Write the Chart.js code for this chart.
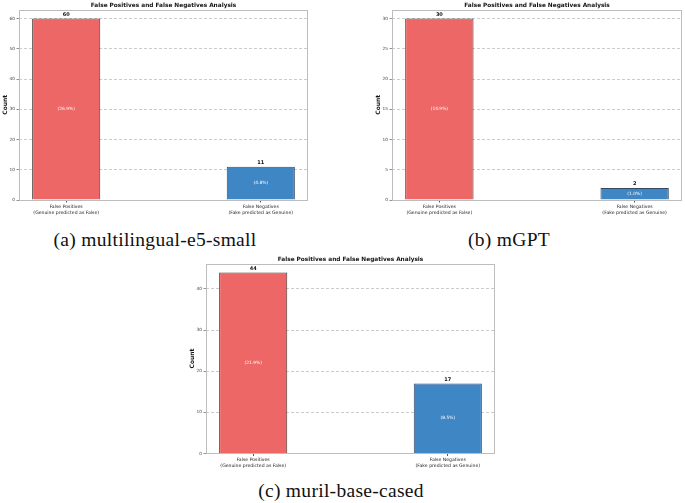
<!DOCTYPE html>
<html><head><meta charset="utf-8">
<script src="https://cdn.jsdelivr.net/npm/chart.js@4"></script>
<style>
html,body{margin:0;padding:0;background:#fff}
body{width:685px;height:503px;position:relative;overflow:hidden}
canvas{position:absolute}
.cap{position:absolute;width:320px;text-align:center;white-space:nowrap;font-family:"Liberation Serif","DejaVu Serif",serif;font-size:19.5px;letter-spacing:0.3px;line-height:22px;color:#111}
</style></head><body>
<canvas id="ca" width="320" height="225" style="left:0px;top:0px"></canvas>
<canvas id="cb" width="312" height="225" style="left:373px;top:0px"></canvas>
<canvas id="cc" width="320" height="225" style="left:187px;top:254px"></canvas>
<div class="cap" id="capA" style="left:-5px;top:229px"></div>
<div class="cap" id="capB" style="left:349px;top:229px"></div>
<div class="cap" id="capC" style="left:181px;top:480px"></div>
<script>
// ---- data ----
const categories = [["False Positives", "(Genuine predicted as False)"], ["False Negatives", "(Fake predicted as Genuine)"]];
const chartTitle = "False Positives and False Negatives Analysis";
const yAxisLabel = "Count";
const e5Counts = [60, 11];
const e5Pct = ["(26.9%)", "(4.8%)"];
const mgptCounts = [30, 2];
const mgptPct = ["(14.9%)", "(1.0%)"];
const murilCounts = [44, 17];
const murilPct = ["(21.9%)", "(8.5%)"];
const yMaxes = [63, 31.5, 46.2];
const ySteps = [10, 5, 10];
const captions = ["(a) multilingual-e5-small", "(b) mGPT", "(c) muril-base-cased"];

document.getElementById('capA').textContent = captions[0];
document.getElementById('capB').textContent = captions[1];
document.getElementById('capC').textContent = captions[2];

const FONT = "'DejaVu Sans', sans-serif";
Chart.defaults.font.family = FONT;

const annot = {
  id: 'annot',
  afterDatasetsDraw(chart, args, opts) {
    const ctx = chart.ctx;
    const meta = chart.getDatasetMeta(0);
    const ds = chart.data.datasets[0];
    ctx.save();
    meta.data.forEach((bar, i) => {
      const v = ds.data[i].y;
      ctx.fillStyle = '#111';
      ctx.font = "bold 5px " + FONT;
      ctx.textAlign = 'center';
      ctx.textBaseline = 'bottom';
      ctx.fillText(String(v), bar.x, bar.y - 1.5);
      ctx.fillStyle = '#fff';
      ctx.font = "4.4px " + FONT;
      ctx.textBaseline = 'middle';
      ctx.fillText(opts.pct[i], bar.x, (bar.y + bar.base) / 2);
    });
    const a = chart.chartArea;
    ctx.strokeStyle = '#bdbdbd';
    ctx.lineWidth = 1;
    ctx.strokeRect(Math.round(a.left) + 0.5, Math.round(a.top) + 0.5, Math.round(a.right - a.left) - 1, Math.round(a.bottom - a.top) - 1);
    ctx.fillStyle = '#111';
    ctx.font = "bold 5.8px " + FONT;
    ctx.textAlign = 'center';
    ctx.textBaseline = 'middle';
    ctx.fillText(chartTitle, (a.left + a.right) / 2, a.top - 4.3);
    ctx.restore();
  }
};

function makeChart(id, counts, pct, yMax, step, L) {
  const W = L.w, H = L.h;
  new Chart(document.getElementById(id), {
    type: 'bar',
    data: {
      datasets: [{
        data: counts.map((c, i) => ({x: i, y: c})),
        backgroundColor: ['rgb(237,103,103)', 'rgb(63,134,196)'],
        borderColor: ['rgba(40,20,20,0.85)', 'rgba(20,40,70,0.85)'],
        borderWidth: 1,
        barPercentage: 0.35,
        categoryPercentage: 1
      }]
    },
    options: {
      responsive: false,
      animation: false,
      events: [],
      layout: {padding: {top: L.at, left: 0, right: W - L.ar, bottom: 0}},
      plugins: {legend: {display: false}, tooltip: {enabled: false}, title: {display: false}, annot: {pct: pct}},
      scales: {
        x: {
          type: 'linear',
          offset: false,
          min: -0.2425, max: 1.2425,
          afterBuildTicks: s => { s.ticks = [{value: 0}, {value: 1}]; },
          afterFit: s => { s.height = H - L.ab; },
          ticks: {
            callback: v => categories[v],
            font: {size: 4.6, lineHeight: 1.3},
            color: '#222',
            padding: 1,
            maxRotation: 0,
            autoSkip: false
          },
          grid: {offset: false, drawOnChartArea: false, tickLength: 2.5, color: '#555'},
          border: {display: false}
        },
        y: {
          min: 0, max: yMax,
          afterBuildTicks: s => { s.ticks = s.ticks.filter(t => Math.abs(t.value / step - Math.round(t.value / step)) < 1e-9); },
          afterFit: s => { s.width = L.al; },
          ticks: {stepSize: step, font: {size: 4.3}, color: '#444', padding: 1.5},
          grid: {color: 'rgba(0,0,0,0.25)', tickLength: 2.5, tickColor: '#777', lineWidth: 0.8},
          border: {display: false, dash: [3, 2]},
          title: {display: true, text: yAxisLabel, font: {size: 6, weight: 'bold'}, color: '#111', padding: {top: 2, bottom: 0}}
        }
      }
    },
    plugins: [annot]
  });
}

makeChart('ca', e5Counts, e5Pct, yMaxes[0], ySteps[0], {w: 320, h: 225, al: 19, ar: 308, at: 9.5, ab: 200});
makeChart('cb', mgptCounts, mgptPct, yMaxes[1], ySteps[1], {w: 312, h: 225, al: 19, ar: 309, at: 9.5, ab: 200});
makeChart('cc', murilCounts, murilPct, yMaxes[2], ySteps[2], {w: 320, h: 225, al: 19, ar: 308, at: 9.5, ab: 199.5});
</script>
</body></html>
